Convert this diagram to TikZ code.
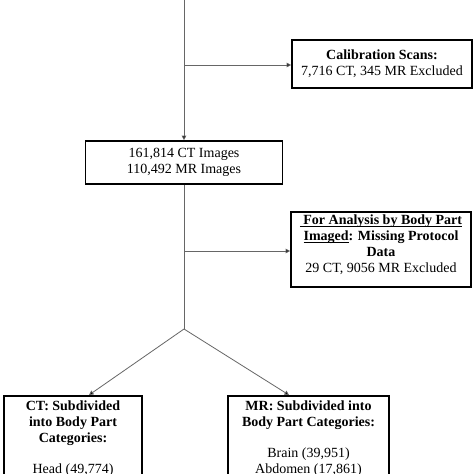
\documentclass[tikz,border=0pt]{standalone}
\usepackage{fontspec}
\setmainfont{Liberation Serif}
\usetikzlibrary{arrows.meta}
\newcommand\myul[1]{\underline{\smash{#1}}}
\begin{document}
\begin{tikzpicture}[x=1pt,y=-1pt,
  box/.style={draw=black, line width=1.7pt, align=center, inner sep=0pt,
    font=\fontsize{14}{16}\selectfont},
  conn/.style={draw=black!60, line width=0.8pt,
    -{Triangle[width=4.5pt,length=4.5pt,fill=black]}},
  plain/.style={draw=black!60, line width=0.8pt}]
\useasboundingbox (0,0) rectangle (474,474);
\fill[white] (0,0) rectangle (474,474);

\node[box, minimum width=180pt, minimum height=48pt] (calib) at (382,64)
  {\textbf{Calibration Scans:}\\7,716 CT, 345 MR Excluded};
\node[box, minimum width=197pt, minimum height=43pt] (mid) at (184,162.5)
  {161,814 CT Images\\110,492 MR Images};
\node[box, minimum width=180pt, minimum height=75pt] (excl) at (381,249.5)
  {\textbf{\myul{\ For Analysis by Body Part}}\\
   \textbf{\myul{Imaged}: Missing Protocol}\\
   \textbf{Data}\\
   29 CT, 9056 MR Excluded};
\node[box, anchor=north, minimum width=138pt, inner ysep=5pt] (ct) at (73,395)
  {\begin{minipage}[t][110pt][t]{134pt}\centering
   \textbf{CT: Subdivided}\\ \textbf{into Body Part}\\ \textbf{Categories:}\\[15pt]
   Head (49,774)\end{minipage}};
\node[box, anchor=north, minimum width=161pt, inner ysep=5pt] (mr) at (308.5,395)
  {\begin{minipage}[t][110pt][t]{157pt}\centering
   \textbf{MR: Subdivided into}\\ \textbf{Body Part Categories:}\\[15pt]
   Brain (39,951)\\ Abdomen (17,861)\end{minipage}};

\coordinate (top) at (184,0);
\coordinate (b1) at (184,65);
\coordinate (b2) at (184,251);
\coordinate (split) at (184,329);

\draw[conn] (top) -- (mid.north);
\draw[conn] (b1) -- (b1 -| calib.west);
\draw[plain] (mid.south) -- (split);
\draw[conn] (b2) -- (b2 -| excl.west);
\draw[conn] (split) -- ([xshift=16pt]ct.north);
\draw[conn] (split) -- ([xshift=-19.5pt]mr.north);
\end{tikzpicture}
\end{document}
